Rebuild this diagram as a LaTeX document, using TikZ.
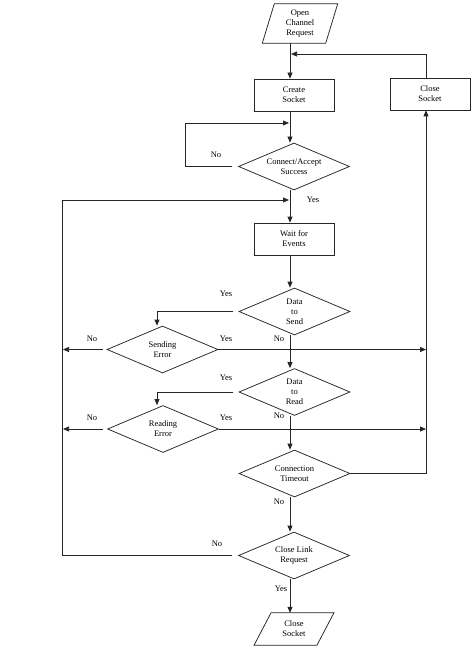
\documentclass[tikz,border=0pt]{standalone}
\usepackage{fontspec}
\setmainfont{Liberation Serif}
\usetikzlibrary{arrows.meta,shapes.geometric,calc}
\begin{document}
\begin{tikzpicture}[x=1pt,y=-1pt,
  txt/.style={font=\fontsize{8.5}{10}\selectfont},
  line/.style={draw=black!85, line width=0.75pt},
  arr/.style={line,-{Triangle[length=6pt,width=5pt]}},
  proc/.style={line, txt, rectangle, minimum width=80pt, minimum height=32pt, inner sep=0pt, align=center},
  dec/.style={line, txt, diamond, aspect=2.36, minimum width=111pt, minimum height=47pt, inner sep=0pt, align=center},
  io/.style={txt, inner sep=0pt, align=center},
  lbl/.style={txt, inner sep=0pt}]
\fill[white] (0,0) rectangle (474,663);
\useasboundingbox (0,0) rectangle (474,663);

% guide coordinates
\coordinate (mx) at (290,0);
\coordinate (rx) at (426,0);
\coordinate (lx) at (62,0);
\coordinate (ex) at (157,0);
\coordinate (loopx) at (185,0);

% nodes
\node[io, minimum width=63pt, minimum height=39pt] (open) at (300,23.5) {Open\\Channel\\Request};
\draw[line] ([xshift=6pt]open.north west) -- ([xshift=6pt]open.north east)
  -- ([xshift=-6pt]open.south east) -- ([xshift=-6pt]open.south west) -- cycle;

\node[proc] (create) at (294,95) {Create\\Socket};
\node[proc] (closeR) at (430,94) {Close\\Socket};
\node[dec] (conn) at (294,166.5) {Connect/Accept\\Success};
\node[proc] (wait) at (294,239) {Wait for\\Events};
\node[dec] (send) at (294.5,311.5) {Data\\to\\Send};
\node[dec] (senderr) at (162.5,349.5) {Sending\\Error};
\node[dec] (read) at (294.5,392) {Data\\to\\Read};
\node[dec] (readerr) at (163,429) {Reading\\Error};
\node[dec] (timeout) at (294.5,473.5) {Connection\\Timeout};
\node[dec] (closelink) at (294,555.5) {Close Link\\Request};

\node[io, minimum width=62.5pt, minimum height=32pt] (closeS) at (294,629) {Close\\Socket};
\draw[line] ([xshift=8.5pt]closeS.north west) -- ([xshift=8.5pt]closeS.north east)
  -- ([xshift=-8.5pt]closeS.south east) -- ([xshift=-8.5pt]closeS.south west) -- cycle;

% junction coordinates
\coordinate (j1) at (291,54);
\coordinate (loopin) at (289,123);
\coordinate (backin) at (289,200);

% connectors
\draw[arr] (open.south -| mx) -- (create.north -| mx);
\draw[arr] (closeR.north -| rx) -- (j1 -| rx) -- (j1);
\draw[arr] (create.south -| mx) -- (conn.north -| mx);
\draw[arr] ([xshift=-6pt]conn.west) -- (conn.west -| loopx) -- (loopin -| loopx) -- (loopin);
\draw[arr] (conn.south -| mx) -- (wait.north -| mx);
\draw[arr] ([xshift=-6pt]closelink.west) -- (closelink.west -| lx) -- (backin -| lx) -- (backin);
\draw[arr] (wait.south -| mx) -- (send.north -| mx);
\draw[arr] ([xshift=-6pt]send.west) -- (send.west -| ex) -- (senderr.north -| ex);
\draw[arr] ([xshift=-4pt]senderr.west) -- ([xshift=1pt]senderr.west -| lx);
\draw[arr] (senderr.east) -- (senderr.east -| rx);
\draw[arr] (send.south -| mx) -- (read.north -| mx);
\draw[arr] ([xshift=-6pt]read.west) -- (read.west -| ex) -- (readerr.north -| ex);
\draw[arr] ([xshift=-4pt]readerr.west) -- ([xshift=1pt]readerr.west -| lx);
\draw[arr] (readerr.east) -- (readerr.east -| rx);
\draw[arr] (read.south -| mx) -- (timeout.north -| mx);
\draw[arr] (timeout.east) -- (timeout.east -| rx) -- (closeR.south -| rx);
\draw[arr] (timeout.south -| mx) -- (closelink.north -| mx);
\draw[arr] (closelink.south -| mx) -- (closeS.north -| mx);

% labels
\node[lbl] (l1) at (216,155) {No};
\node[lbl] (l2) at (313,200) {Yes};
\node[lbl] (l3) at (226,294) {Yes};
\node[lbl] (l4) at (92,339) {No};
\node[lbl] (l5) at (226,339) {Yes};
\node[lbl] (l6) at (279,339) {No};
\node[lbl] (l7) at (226,378) {Yes};
\node[lbl] (l8) at (92,418) {No};
\node[lbl] (l9) at (226,418) {Yes};
\node[lbl] (l10) at (279,416) {No};
\node[lbl] (l11) at (279,502) {No};
\node[lbl] (l12) at (217,544) {No};
\node[lbl] (l13) at (281,589) {Yes};
\end{tikzpicture}
\end{document}
